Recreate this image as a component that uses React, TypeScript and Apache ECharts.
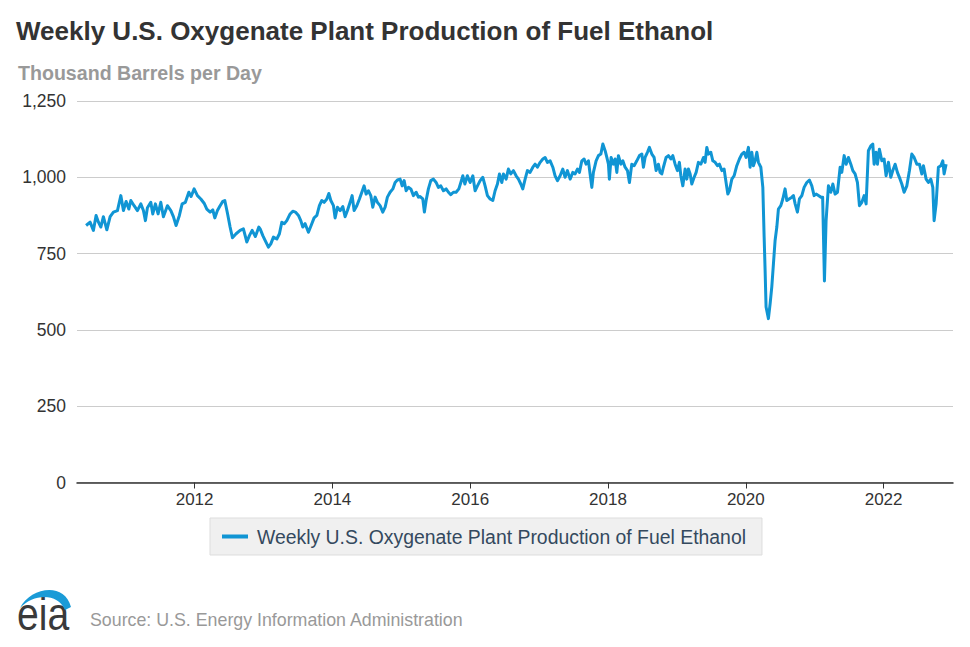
import React, { useEffect, useRef } from "react";
import * as echarts from "echarts";

// ---- data ----
const chartTitle = "Weekly U.S. Oxygenate Plant Production of Fuel Ethanol";
const seriesName = "Weekly U.S. Oxygenate Plant Production of Fuel Ethanol";
const unitLabel = "Thousand Barrels per Day";
const sourceText = "Source: U.S. Energy Information Administration";

// dates as decimal years
const weekYears = [
  2010.425, 2010.483, 2010.531, 2010.570, 2010.604, 2010.639, 2010.676, 2010.726, 2010.774, 2010.822,
  2010.880, 2010.929, 2010.967, 2011.006, 2011.045, 2011.074, 2011.122, 2011.170, 2011.219, 2011.257,
  2011.286, 2011.315, 2011.364, 2011.393, 2011.431, 2011.470, 2011.509, 2011.547, 2011.605, 2011.655,
  2011.692, 2011.731, 2011.779, 2011.819, 2011.866, 2011.916, 2011.949, 2011.993, 2012.041, 2012.090,
  2012.138, 2012.177, 2012.225, 2012.264, 2012.293, 2012.331, 2012.370, 2012.409, 2012.438, 2012.476,
  2012.515, 2012.549, 2012.602, 2012.660, 2012.708, 2012.758, 2012.795, 2012.835, 2012.882, 2012.932,
  2012.951, 2012.990, 2013.023, 2013.071, 2013.106, 2013.144, 2013.193, 2013.231, 2013.266, 2013.303,
  2013.338, 2013.386, 2013.425, 2013.463, 2013.507, 2013.541, 2013.570, 2013.604, 2013.652, 2013.691,
  2013.734, 2013.774, 2013.811, 2013.846, 2013.880, 2013.919, 2013.948, 2013.977, 2014.015, 2014.039,
  2014.073, 2014.112, 2014.151, 2014.184, 2014.218, 2014.257, 2014.286, 2014.315, 2014.354, 2014.392,
  2014.427, 2014.460, 2014.489, 2014.522, 2014.557, 2014.586, 2014.620, 2014.653, 2014.692, 2014.731,
  2014.765, 2014.798, 2014.837, 2014.877, 2014.910, 2014.943, 2014.983, 2015.012, 2015.041, 2015.070,
  2015.103, 2015.138, 2015.176, 2015.215, 2015.248,
  2015.273, 2015.312, 2015.335, 2015.360, 2015.393, 2015.428, 2015.466, 2015.505, 2015.538, 2015.573,
  2015.611, 2015.650, 2015.684, 2015.718, 2015.756, 2015.795, 2015.835, 2015.864, 2015.893, 2015.922,
  2015.959, 2015.999, 2016.038, 2016.071, 2016.105, 2016.144, 2016.183, 2016.216, 2016.250, 2016.289,
  2016.328, 2016.361, 2016.395, 2016.424, 2016.459, 2016.482, 2016.521, 2016.554, 2016.589, 2016.627,
  2016.666, 2016.700, 2016.734, 2016.763, 2016.797, 2016.830, 2016.869, 2016.909, 2016.942, 2016.975,
  2017.015, 2017.054, 2017.087, 2017.120, 2017.160, 2017.199, 2017.232, 2017.266, 2017.305, 2017.344,
  2017.377, 2017.411, 2017.450, 2017.489, 2017.522, 2017.556, 2017.585, 2017.620, 2017.653, 2017.682,
  2017.716,
  2017.740, 2017.765, 2017.788, 2017.827, 2017.861, 2017.896, 2017.925, 2017.958, 2017.983, 2018.006,
  2018.020, 2018.045, 2018.078, 2018.103, 2018.128, 2018.151, 2018.186, 2018.215, 2018.248, 2018.282,
  2018.311, 2018.345, 2018.379, 2018.418, 2018.456, 2018.491, 2018.514, 2018.538, 2018.572, 2018.601,
  2018.636, 2018.669, 2018.698, 2018.731, 2018.756, 2018.781, 2018.804, 2018.843, 2018.877, 2018.912,
  2018.940, 2018.974, 2019.007, 2019.036, 2019.057, 2019.086, 2019.119, 2019.144, 2019.167, 2019.192,
  2019.216, 2019.250, 2019.279, 2019.312, 2019.347, 2019.385, 2019.409, 2019.434, 2019.457, 2019.492,
  2019.521, 2019.555, 2019.588, 2019.617, 2019.652, 2019.685, 2019.699, 2019.724, 2019.739, 2019.762,
  2019.797, 2019.830, 2019.869, 2019.907, 2019.942, 2019.975, 2020.004, 2020.038, 2020.062, 2020.087,
  2020.110, 2020.135, 2020.160, 2020.183, 2020.218,
  2020.247, 2020.266, 2020.280, 2020.294, 2020.328, 2020.353, 2020.377, 2020.401, 2020.425, 2020.450,
  2020.473, 2020.508, 2020.537, 2020.570, 2020.595, 2020.628, 2020.668, 2020.691, 2020.716, 2020.749,
  2020.778, 2020.813, 2020.846, 2020.885, 2020.923, 2020.958, 2020.991, 2021.020, 2021.054, 2021.089,
  2021.115, 2021.141, 2021.165, 2021.199, 2021.234, 2021.263, 2021.296, 2021.330, 2021.369, 2021.393,
  2021.427, 2021.456, 2021.489, 2021.524, 2021.553, 2021.586, 2021.620, 2021.649, 2021.684, 2021.717,
  2021.746, 2021.779, 2021.814, 2021.843, 2021.862, 2021.891, 2021.910, 2021.939, 2021.974, 2022.007,
  2022.036, 2022.070, 2022.104, 2022.133, 2022.167, 2022.200, 2022.239, 2022.264, 2022.298, 2022.337,
  2022.375, 2022.409, 2022.443, 2022.482, 2022.520, 2022.554, 2022.578, 2022.617, 2022.650, 2022.685,
  2022.714, 2022.733, 2022.762, 2022.795, 2022.830, 2022.859, 2022.878, 2022.907,
];

// thousand barrels per day
const production = [
  842, 853, 826, 875, 853, 837, 871, 828, 871, 886,
  891, 940, 891, 921, 896, 924, 907, 891, 913, 891,
  858, 900, 918, 880, 913, 880, 918, 871, 907, 891,
  871, 842, 875, 913, 918, 951, 937, 962, 940, 929,
  915, 896, 886, 893, 867, 891, 907, 921, 924, 883,
  837, 802, 815, 826, 831, 788, 809, 826, 806, 837,
  831, 809, 793, 771, 782, 804, 798, 815, 853, 848,
  858, 880, 889, 886, 875, 858, 837, 848, 820, 842,
  867, 875, 907, 924, 918, 929, 947, 924, 907, 867,
  902, 891, 904, 871, 891, 918, 940, 891, 907, 929,
  951, 972, 945, 956, 940, 902, 935, 918, 907, 886,
  902, 935, 951, 962, 983, 991, 994, 972, 989, 956,
  967, 962, 940, 951, 935,
  937, 929, 886, 924, 962, 989, 994, 983, 967, 972,
  956, 962, 951, 943, 951, 951, 962, 983, 1005, 978,
  1005, 983, 1005, 956, 972, 989, 1000, 972, 940, 929,
  924, 956, 978, 1011, 983, 1011, 994, 1027, 1011, 1022,
  1005, 994, 978, 962, 994, 1022, 1016, 1033, 1043, 1033,
  1049, 1060, 1065, 1049, 1054, 1033, 1005, 989, 1005, 1027,
  1000, 1022, 994, 1016, 1011, 1027, 1016, 1054, 1060, 1043,
  1054,
  1011, 967, 1016, 1054, 1071, 1076, 1109, 1087, 1065, 1043,
  994, 1065, 1043, 1060, 1016, 1071, 1043, 1054, 1033, 1022,
  983, 1043, 1038, 1054, 1071, 1076, 1033, 1065, 1082, 1098,
  1076, 1065, 1022, 1043, 1016, 1011, 1033, 1065, 1071, 1060,
  1071, 1043, 1022, 1049, 1005, 972, 1027, 994, 1027, 1011,
  978, 1000, 1016, 1049, 1043, 1065, 1049, 1098, 1076, 1082,
  1054, 1049, 1038, 1043, 1022, 1027, 1005, 967, 945, 956,
  994, 1005, 1038, 1060, 1076, 1082, 1065, 1098, 1033, 1082,
  1038, 1054, 1082, 1049, 1033,
  967, 804, 695, 575, 537, 586, 641, 717, 793, 837,
  896, 907, 929, 962, 924, 929, 935, 940, 913, 886,
  929, 940, 967, 983, 991, 972, 940, 945, 940, 935,
  935, 660, 858, 972, 951, 978, 945, 951, 1033, 1016,
  1071, 1043, 1065, 1043, 1022, 1011, 983, 907, 918, 940,
  913, 1087, 1103, 1109, 1043, 1082, 1043, 1092, 1054, 1060,
  1005, 1049, 1000, 1022, 1043, 1016, 994, 978, 951, 972,
  1022, 1076, 1065, 1043, 1043, 1011, 1038, 994, 983, 994,
  967, 858, 913, 1033, 1038, 1054, 1011, 1043,
];

const yTickValues = [0, 250, 500, 750, 1000, 1250];
const xTickYears = [2012, 2014, 2016, 2018, 2020, 2022];
// x-axis range in decimal years (mid-April 2010 to early January 2023)
const axisStartYear = 2010.293;
const axisEndYear = 2023.007;

const FONT = "'Liberation Sans', Arial, Helvetica, sans-serif";
const LINE_COLOR = "#1095d4";

const swooshPath = "M2 22 C12 2 46 -5 53 21 L47 24 C40 7 16 7 2 22 Z";

let registered = false;
function registerShapes() {
  if (registered) return;
  registered = true;
  echarts.graphic.registerShape(
    "eiaSwoosh",
    (echarts.graphic as any).extendPath(swooshPath, {})
  );
}

export default function App() {
  const ref = useRef<HTMLDivElement>(null);

  useEffect(() => {
    if (!ref.current) return;
    registerShapes();
    const chart = echarts.init(ref.current, undefined, { renderer: "svg" });

    const data = weekYears.map((y, i) => [y, production[i]]);

    chart.setOption({
      animation: false,
      backgroundColor: "#ffffff",
      title: {
        text: chartTitle,
        left: 16,
        top: 18,
        padding: 0,
        textStyle: {
          fontFamily: FONT,
          fontSize: 26,
          fontWeight: "bold",
          color: "#333333",
        },
      },
      grid: {
        left: 77,
        right: 17,
        top: 101,
        bottom: 164.5,
        containLabel: false,
      },
      legend: {
        show: true,
        left: 210,
        top: 518,
        orient: "horizontal",
        backgroundColor: "#f0f0f0",
        borderColor: "#dddddd",
        borderWidth: 1,
        borderRadius: 0,
        padding: [9, 16, 9, 12],
        itemWidth: 26,
        itemHeight: 4,
        icon: "rect",
        textStyle: {
          fontFamily: FONT,
          fontSize: 19.4,
          color: "#34495e",
          padding: [0, 0, 0, 4],
        },
        data: [{ name: seriesName, icon: "rect" }],
      },
      xAxis: {
        type: "value",
        min: axisStartYear,
        max: axisEndYear,
        axisLine: { show: true, onZero: false, lineStyle: { color: "#333333", width: 1.5 } },
        axisTick: {
          show: true,
          length: 6,
          lineStyle: { color: "#333333", width: 1 },
          customValues: xTickYears,
        },
        axisLabel: {
          customValues: xTickYears,
          formatter: (v: number) => String(Math.round(v)),
          fontFamily: FONT,
          fontSize: 17,
          color: "#333333",
          margin: 8,
        },
        splitLine: { show: false },
      },
      yAxis: {
        type: "value",
        min: yTickValues[0],
        max: yTickValues[yTickValues.length - 1],
        interval: yTickValues[1] - yTickValues[0],
        axisLine: { show: false },
        axisTick: { show: false },
        axisLabel: {
          formatter: (v: number) => v.toLocaleString("en-US"),
          fontFamily: FONT,
          fontSize: 17.5,
          color: "#333333",
          margin: 11,
        },
        splitLine: { show: true, lineStyle: { color: "#cccccc", width: 1 } },
      },
      series: [
        {
          name: seriesName,
          type: "line",
          data,
          showSymbol: false,
          symbol: "none",
          lineStyle: { width: 3, color: LINE_COLOR, join: "round" },
          itemStyle: { color: LINE_COLOR },
          emphasis: { disabled: true },
        },
      ],
      graphic: [
        {
          type: "text",
          left: 18,
          top: 63,
          style: {
            text: unitLabel,
            fontFamily: FONT,
            fontSize: 19.6,
            fontWeight: "bold",
            fill: "#999999",
          },
        },
        {
          type: "text",
          left: 90,
          top: 611,
          style: {
            text: sourceText,
            fontFamily: FONT,
            fontSize: 17.8,
            fill: "#999999",
          },
        },
        {
          type: "text",
          x: 17,
          y: 591,
          scaleX: 0.85,
          style: {
            text: "eia",
            fontFamily: FONT,
            fontSize: 46,
            fill: "#3a3a3a",
          },
        },
        {
          type: "eiaSwoosh",
          x: 18,
          y: 586,
          style: { fill: "#1a9bd7" },
        },
      ],
    });

    return () => {
      chart.dispose();
    };
  }, []);

  return (
    <div
      ref={ref}
      style={{ position: "absolute", left: 0, top: 0, width: 970, height: 647 }}
    />
  );
}
